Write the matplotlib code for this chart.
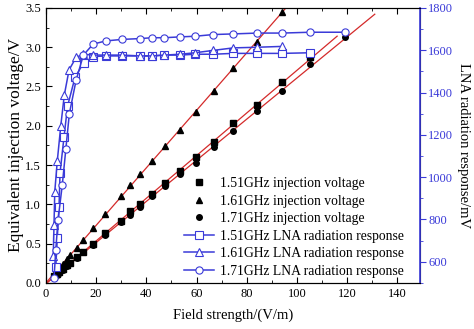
import numpy as np
import matplotlib
matplotlib.use("Agg")
import matplotlib.pyplot as plt
from matplotlib.ticker import MultipleLocator

plt.rcParams['font.family'] = ['Liberation Serif', 'DejaVu Serif']
plt.rcParams['font.size'] = 9

# injection voltage (V) vs field strength (V/m)
x_inj = [3.3, 4.2, 5.3, 6.7, 8.4, 9.6, 12.2, 14.9, 18.8, 23.7, 30.0, 33.6, 37.6,
         42.3, 47.3, 53.4, 59.7, 66.8, 74.6, 84.2, 94.2, 105.3, 119.3]
v_151 = [0.09, 0.11, 0.14, 0.18, 0.23, 0.26, 0.33, 0.40, 0.50, 0.63, 0.79, 0.91, 1.01,
         1.13, 1.27, 1.42, 1.60, 1.79, 2.03, 2.26, 2.56, 2.88]
v_161 = [0.12, 0.15, 0.19, 0.24, 0.30, 0.35, 0.45, 0.55, 0.70, 0.88, 1.10, 1.24, 1.38,
         1.55, 1.74, 1.95, 2.18, 2.44, 2.74, 3.07, 3.45]
v_171 = [0.08, 0.10, 0.13, 0.17, 0.22, 0.25, 0.32, 0.39, 0.48, 0.61, 0.77, 0.87, 0.97,
         1.10, 1.23, 1.38, 1.53, 1.73, 1.93, 2.19, 2.44, 2.78, 3.13]

# LNA radiation response (mV)
x_lna_151 = [3.9, 4.5, 5.2, 5.6, 7.2, 8.6, 11.6, 15.0, 18.8, 23.9, 30.3, 37.5, 42.3,
             47.1, 53.5, 59.4, 66.6, 74.6, 84.2, 94.1, 105.3]
r_151 = [574, 712, 860, 1020, 1191, 1336, 1473, 1540, 1570, 1573, 1573, 1573, 1573,
         1577, 1577, 1581, 1581, 1585, 1585, 1585, 1588]
x_lna_161 = [2.9, 3.2, 3.5, 4.5, 5.9, 7.3, 9.2, 12.0, 14.9, 18.8, 23.9, 30.3, 37.5,
             42.3, 47.1, 53.5, 59.4, 66.6, 74.6, 84.2, 94.1]
r_161 = [626, 775, 931, 1076, 1243, 1388, 1507, 1566, 1581, 1577, 1577, 1577, 1573,
         1573, 1577, 1581, 1588, 1599, 1611, 1614, 1618]
x_lna_171 = [3.2, 3.9, 4.8, 6.5, 7.9, 9.3, 12.0, 14.9, 18.8, 23.9, 30.3, 37.5, 42.3,
             47.1, 53.5, 59.4, 66.6, 74.6, 84.2, 94.1, 105.3, 119.3]
r_171 = [522, 656, 797, 964, 1131, 1299, 1458, 1577, 1629, 1644, 1651, 1655, 1659,
         1659, 1663, 1666, 1674, 1677, 1681, 1681, 1685, 1685]

fit_end = {'151': 116, '161': 100, '171': 131}

blue = '#3a3ad8'
red = '#d42a2a'

fig = plt.figure(figsize=(4.74, 3.29), dpi=100)
ax = fig.add_axes([0.097, 0.140, 0.789, 0.836])
ax2 = ax.twinx()

# linear fits of the injection voltage
for key, vals in [('151', v_151), ('161', v_161), ('171', v_171)]:
    xs = np.array(x_inj[:len(vals)])
    k, b = np.polyfit(xs, vals, 1)
    xf = np.array([0, fit_end[key]])
    ax.plot(xf, k * xf + b, color=red, lw=0.9, zorder=2)

h1, = ax.plot(x_inj[:len(v_151)], v_151, 's', color='black', ms=4, ls='none', zorder=3)
h2, = ax.plot(x_inj[:len(v_161)], v_161, '^', color='black', ms=4.5, ls='none', zorder=3)
h3, = ax.plot(x_inj[:len(v_171)], v_171, 'o', color='black', ms=4, ls='none', zorder=3)

mk = dict(color=blue, lw=1.1, mfc='white', mec=blue, ms=5.2, mew=0.8)
h4, = ax2.plot(x_lna_151, r_151, marker='s', **mk)
h5, = ax2.plot(x_lna_161, r_161, marker='^', **mk)
h6, = ax2.plot(x_lna_171, r_171, marker='o', **mk)

ax.set_xlim(0, 149)
ax.set_ylim(0, 3.5)
ax2.set_ylim(500, 1800)

ax.xaxis.set_major_locator(MultipleLocator(20))
ax.xaxis.set_minor_locator(MultipleLocator(10))
ax.yaxis.set_major_locator(MultipleLocator(0.5))
ax.yaxis.set_minor_locator(MultipleLocator(0.25))
ax2.yaxis.set_major_locator(MultipleLocator(200))
ax2.yaxis.set_minor_locator(MultipleLocator(100))

ax.tick_params(which='both', direction='in', top=True, right=False)
ax.tick_params(which='major', length=4)
ax.tick_params(which='minor', length=2)
ax2.tick_params(which='both', direction='out', colors=blue, labelcolor=blue)
ax2.tick_params(which='major', length=4, pad=2)
ax2.tick_params(which='minor', length=2)
ax2.spines['right'].set_color(blue)
ax2.spines['right'].set_linewidth(1.2)

ax.set_xlabel('Field strength/(V/m)', fontsize=10.5, labelpad=6)
ax.set_ylabel('Equivalent injection voltage/V', fontsize=12.5, labelpad=1)
ax2.set_ylabel('LNA radiation response/mV', fontsize=10.5, rotation=270, labelpad=12)

ax2.legend([h1, h2, h3, h4, h5, h6],
           ['1.51GHz injection voltage', '1.61GHz injection voltage',
            '1.71GHz injection voltage', '1.51GHz LNA radiation response',
            '1.61GHz LNA radiation response', '1.71GHz LNA radiation response'],
           loc='lower right', bbox_to_anchor=(0.985, -0.02), frameon=False,
           fontsize=9.8, handlelength=2.2, handletextpad=0.4, labelspacing=0.33,
           borderpad=0.3)

fig.savefig('out.png', dpi=100)
